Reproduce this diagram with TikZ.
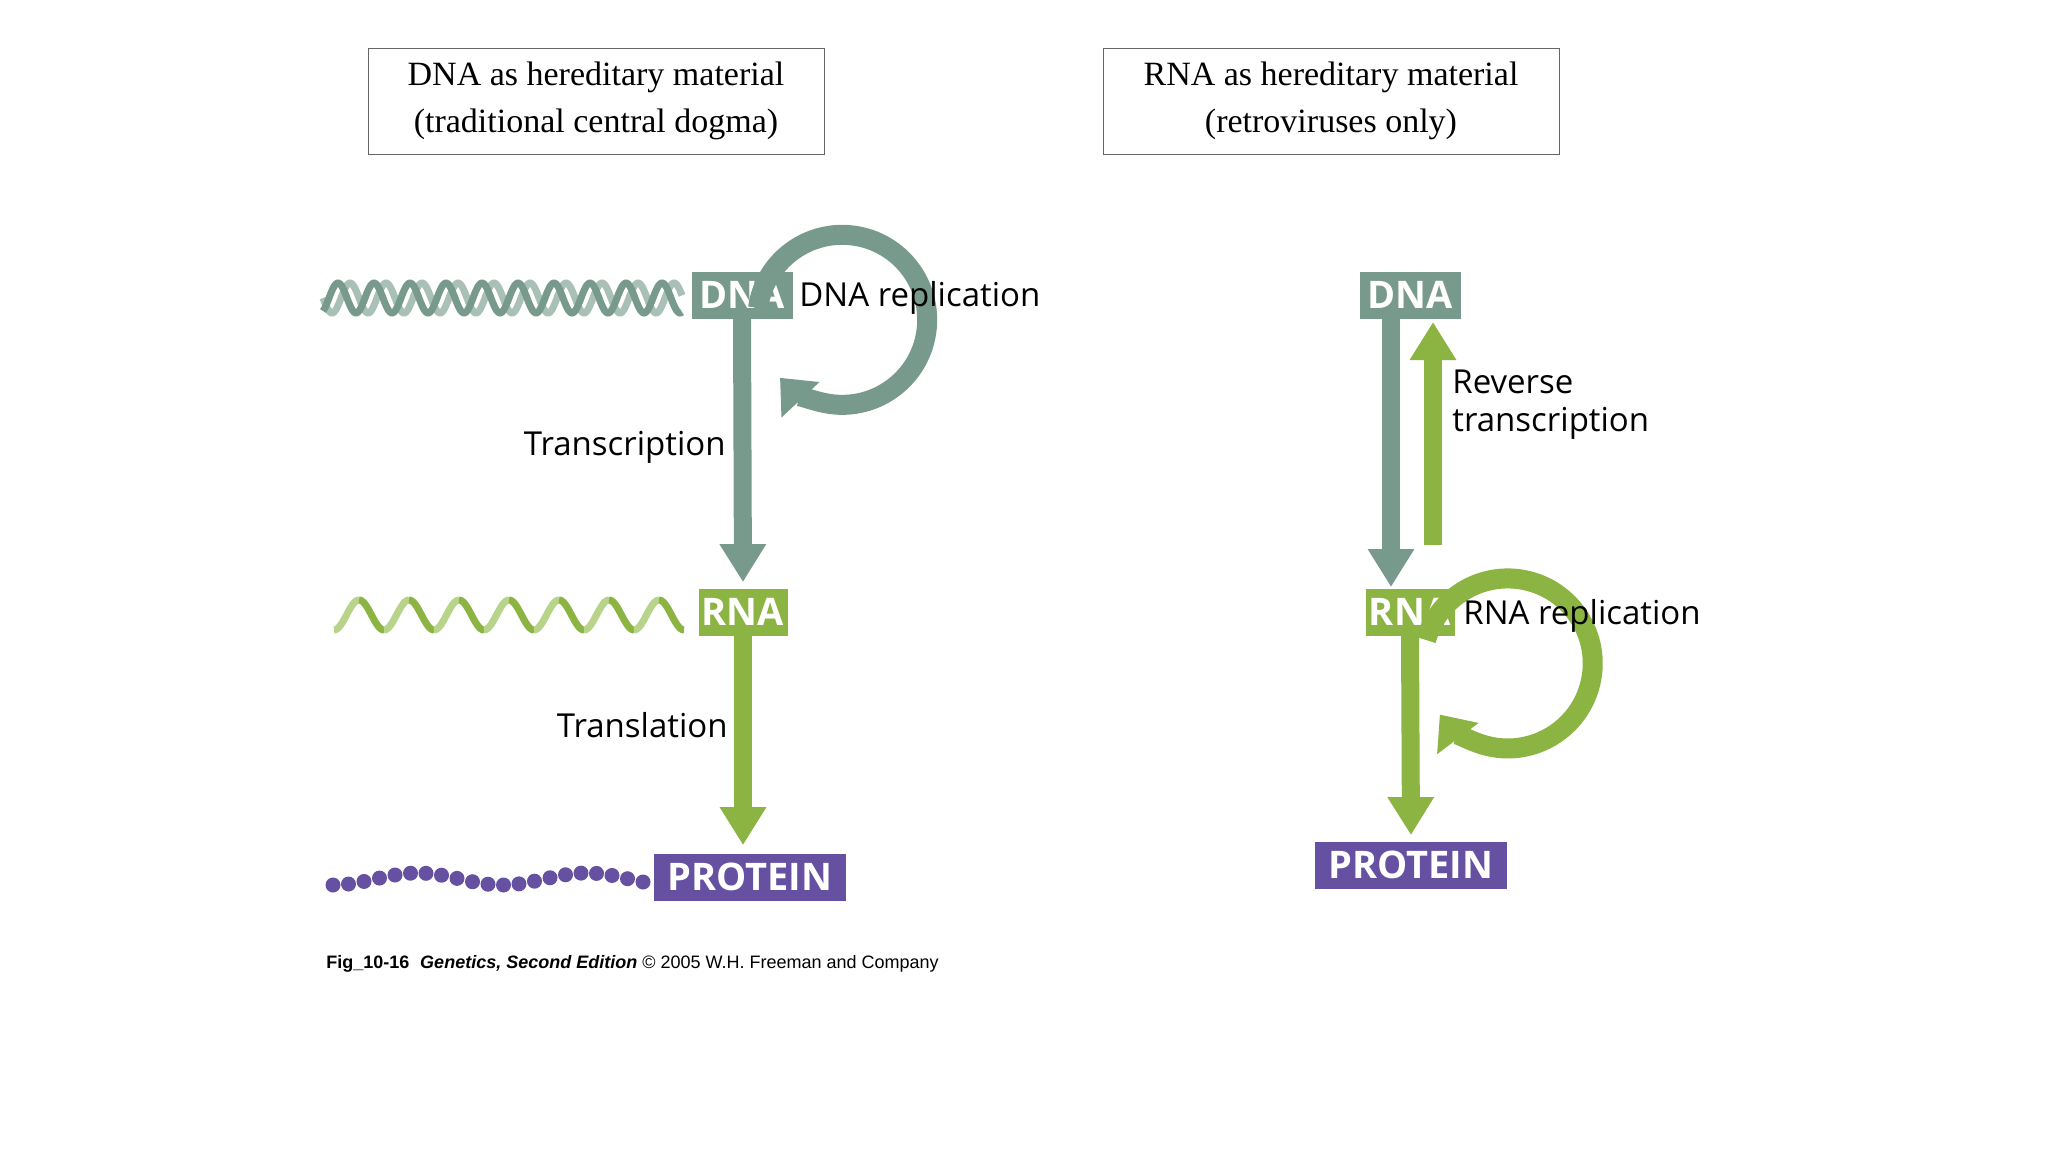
\documentclass[tikz,border=0pt]{standalone}
\usepackage{fontspec}
\setmainfont{Liberation Serif}
\newfontfamily\lab{Open Sans}
\newfontfamily\capfont{Liberation Sans}
\usetikzlibrary{arrows.meta}
\definecolor{dgray}{HTML}{789A8C}
\definecolor{lgray}{HTML}{A9C0B6}
\definecolor{dgreen}{HTML}{8BB443}
\definecolor{lgreen}{HTML}{B8D38A}
\definecolor{purp}{HTML}{6650A2}
\begin{document}
\begin{tikzpicture}[x=0.5pt,y=-0.5pt,
  title/.style={draw=black!60,line width=0.5pt,align=center,font=\fontsize{17}{23.5}\selectfont,minimum width=228pt,minimum height=53pt},
  box/.style={fill=#1,text=white,font=\lab\bfseries\fontsize{19}{20}\selectfont,inner sep=0pt,minimum height=23.5pt},
  lbl/.style={font=\lab\fontsize{16.5}{19}\selectfont,inner sep=0pt},
  flow/.style={draw=#1,line width=9pt,-{Triangle[width=22pt,length=19pt]}},
  loop/.style={draw=#1,line width=10pt,-{Triangle[width=25pt,length=15pt]}}]
\path[use as bounding box,fill=white] (0,0) rectangle (2048,1152);
% titles
\node[title] (t1) at (596,101) {DNA as hereditary material\\(traditional central dogma)};
\node[title] (t2) at (1331,101) {RNA as hereditary material\\(retroviruses only)};
% left column
\node[box=dgray,minimum width=50.5pt] (dna) at (742,295) {DNA};
\node[box=dgreen,minimum width=44.5pt] (rna) at (743,612) {RNA};
\node[box=purp,minimum width=96pt] (prot) at (750,877) {PROTEIN};
\draw[loop=dgray] (758,308) arc[start angle=188,end angle=497,radius=85];
\draw[flow=dgray,shorten >=3pt] (dna.south) -- (rna.north);
\draw[flow=dgreen,shorten >=4pt] (rna.south) -- (prot.north -| rna.south);
\node[lbl,anchor=base west] (drep) at (799,306) {DNA replication};
\node[lbl,anchor=base east] (trs) at (726,455) {Transcription};
\node[lbl,anchor=base east] (trl) at (728,737) {Translation};
% DNA helix
\draw[lgray,line width=3.5pt,domain=323:682,samples=300] plot (\x,{298+15*sin((\x-323)*10)});
\draw[dgray,line width=3.5pt,domain=323:682,samples=300] plot (\x,{298+15*sin((\x-323)*10+120)});
% RNA strand
\foreach \i in {0,...,6}{
  \draw[lgreen,line width=3.5pt,domain={334+\i*50}:{334+\i*50+25},samples=30] plot (\x,{615+15*sin((\x-334)*7.2+90)});
  \draw[dgreen,line width=3.5pt,domain={334+\i*50+25}:{334+\i*50+50},samples=30] plot (\x,{615+15*sin((\x-334)*7.2+90)});
}
% protein beads
\foreach \i in {0,...,20}
  \fill[purp] ({333+\i*15.5},{879+6*sin(\i*33+90)}) circle (7.5);
% caption
\node[font=\capfont\fontsize{9}{11}\selectfont,anchor=base west,inner sep=0pt] (capt) at (326,968) {\textbf{Fig\_10-16}\hspace{0.6em}\textbf{\textit{Genetics, Second Edition}} \textcopyright{} 2005 W.H. Freeman and Company};
% right column
\node[box=dgray,minimum width=50.5pt] (dna2) at (1410,295) {DNA};
\node[box=dgreen,minimum width=44.5pt] (rna2) at (1410,612) {RNA};
\node[box=purp,minimum width=96pt] (prot2) at (1411,865) {PROTEIN};
\coordinate (a1) at (1391,319);
\coordinate (a2) at (1391,587);
\coordinate (b1) at (1433,545);
\coordinate (b2) at (1433,322);
\draw[loop=dgreen] (1426,640) arc[start angle=196,end angle=503,radius=85];
\draw[flow=dgray] (a1) -- (a2);
\draw[flow=dgreen] (b1) -- (b2);
\draw[flow=dgreen,shorten >=3pt] (rna2.south) -- (prot2.north);
\node[lbl,anchor=base west] (rrep) at (1463,624) {RNA replication};
\node[lbl,anchor=base west,align=left] (rt) at (1452,431) {Reverse\\transcription};
\end{tikzpicture}
\end{document}
